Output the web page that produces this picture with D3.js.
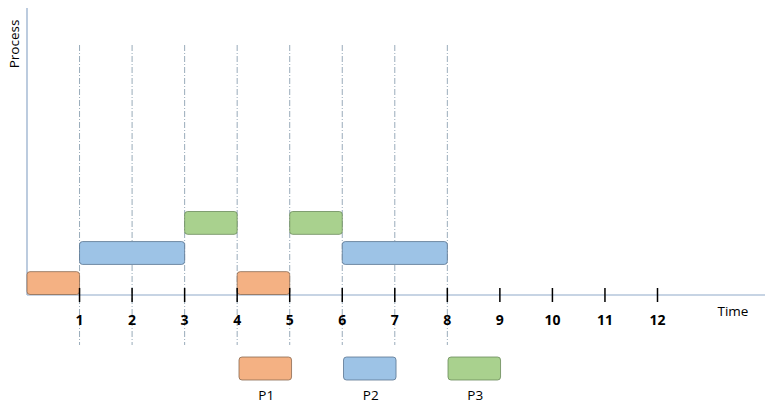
<!DOCTYPE html><html><head><meta charset="utf-8"><script src="https://cdn.jsdelivr.net/npm/d3@7"></script>
<style>body{margin:0;background:#fff}</style></head><body><svg id="c" width="768" height="407"></svg>
<script>
const ticks=[1,2,3,4,5,6,7,8,9,10,11,12];
const gridTicks=[1,2,3,4,5,6,7,8];
const processes=["P1","P2","P3"];
const colors={P1:"#F4B183",P2:"#9DC3E6",P3:"#A9D18E"};
const strokes={P1:"#8c6a50",P2:"#5b7590",P3:"#6b8a5a"};
const segProc=["P1","P2","P3","P1","P3","P2"];
const segStart=[0,1,3,4,5,6];
const segEnd=[1,3,4,5,6,8];
const svg=d3.select("#c");
const x=d3.scaleLinear().domain([0,12]).range([27,657.5]);
const lane=d3.scaleBand().domain(processes).range([294.5,211.5]).paddingInner(0.24).paddingOuter(0);
svg.selectAll(".g").data(gridTicks).enter().append("line").attr("x1",d=>x(d)).attr("x2",d=>x(d)).attr("y1",45).attr("y2",345).attr("stroke","#7f96a8").attr("stroke-width",0.8).attr("stroke-dasharray","6,2,1,2");
svg.append("line").attr("x1",27).attr("x2",27).attr("y1",8).attr("y2",295).attr("stroke","#8fa9c9").attr("stroke-width",1.2);
svg.append("line").attr("x1",27).attr("x2",765).attr("y1",295).attr("y2",295).attr("stroke","#8fa9c9").attr("stroke-width",1.2);
svg.selectAll(".b").data(segProc).enter().append("rect").attr("x",(d,i)=>x(segStart[i])).attr("width",(d,i)=>x(segEnd[i])-x(segStart[i])).attr("y",d=>lane(d)).attr("height",lane.bandwidth()).attr("rx",3).attr("fill",d=>colors[d]).attr("stroke",d=>strokes[d]).attr("stroke-width",0.8);
svg.selectAll(".t").data(ticks).enter().append("line").attr("x1",d=>x(d)).attr("x2",d=>x(d)).attr("y1",288).attr("y2",302).attr("stroke","#000").attr("stroke-width",1.5);
svg.selectAll(".tl").data(ticks).enter().append("text").attr("x",d=>x(d)).attr("y",325).attr("text-anchor","middle").attr("font-family","Open Sans, sans-serif").attr("font-weight","bold").attr("font-size",14).text(d=>d);
svg.append("text").attr("x",733).attr("y",316).attr("text-anchor","middle").attr("font-family","Open Sans, sans-serif").attr("font-size",13.5).text("Time");
svg.append("text").attr("transform","translate(19,44) rotate(-90)").attr("text-anchor","middle").attr("font-family","Open Sans, sans-serif").attr("font-size",13.5).text("Process");
const lw=x(5)-x(4);
const lg=svg.selectAll(".l").data(processes).enter().append("g").attr("transform",(d,i)=>`translate(${239+i*104.5},0)`);
lg.append("rect").attr("width",lw).attr("height",23).attr("y",357).attr("rx",3).attr("fill",d=>colors[d]).attr("stroke",d=>strokes[d]).attr("stroke-width",0.8);
lg.append("text").attr("x",lw/2+1).attr("y",400).attr("text-anchor","middle").attr("font-family","Open Sans, sans-serif").attr("font-size",13.5).text(d=>d);
</script></body></html>
